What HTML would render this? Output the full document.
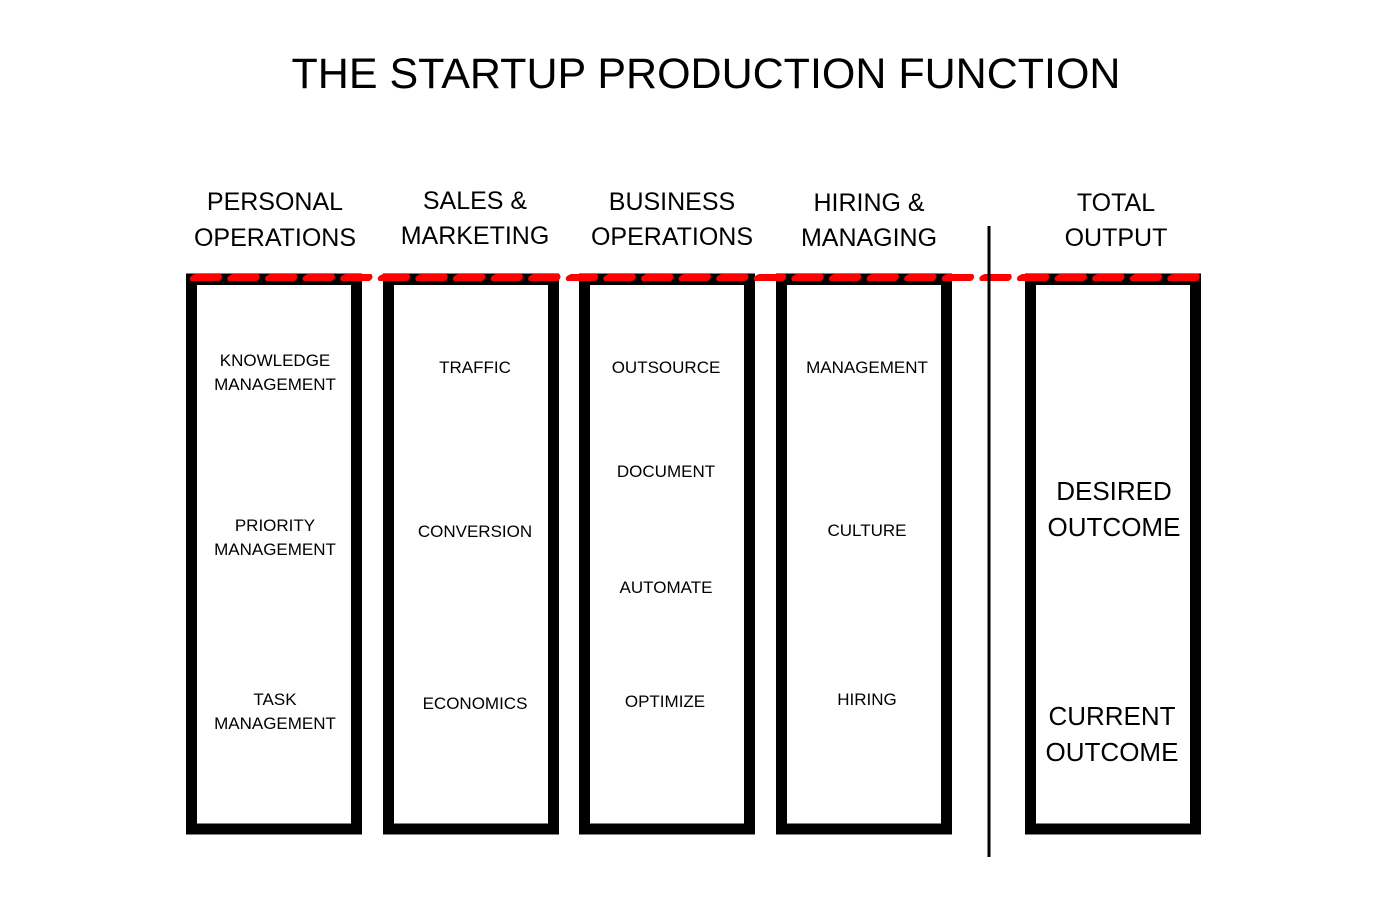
<!DOCTYPE html>
<html><head><meta charset="utf-8"><style>
html,body{margin:0;padding:0;background:#fff;}
svg{display:block;}
text{font-family:"Liberation Sans",sans-serif;fill:#000;text-anchor:middle;}
</style></head><body>
<svg width="1387" height="920" viewBox="0 0 1387 920">
<defs>
<pattern id="p" x="186" y="274" width="37.6" height="10" patternUnits="userSpaceOnUse">
<path d="M9 0 H35 Q38 4 33 7 H5 Q1 3 9 0Z" fill="#f00"/>
</pattern>
</defs>
<text x="706" y="88" font-size="43">THE STARTUP PRODUCTION FUNCTION</text>
<g font-size="25">
<text x="275" y="210">PERSONAL</text><text x="275" y="246">OPERATIONS</text>
<text x="475" y="209">SALES &amp;</text><text x="475" y="244">MARKETING</text>
<text x="672" y="210">BUSINESS</text><text x="672" y="245">OPERATIONS</text>
<text x="869" y="211">HIRING &amp;</text><text x="869" y="246">MANAGING</text>
<text x="1116" y="211">TOTAL</text><text x="1116" y="246">OUTPUT</text>
</g>
<g fill="none" stroke="#000" stroke-width="11">
<rect x="191.5" y="279" width="165" height="550"/>
<rect x="388.5" y="279" width="165" height="550"/>
<rect x="584.5" y="279" width="165" height="550"/>
<rect x="781.5" y="279" width="165" height="550"/>
<rect x="1030.5" y="279" width="165" height="550"/>
</g>
<g fill="#000">
<rect x="186" y="274" width="176" height="11"/>
<rect x="383" y="274" width="176" height="11"/>
<rect x="579" y="274" width="176" height="11"/>
<rect x="776" y="274" width="176" height="11"/>
<rect x="1025" y="274" width="176" height="11"/>
</g>
<rect x="186" y="274" width="1016" height="7" fill="url(#p)"/>
<rect x="987.5" y="226" width="3" height="631" fill="#000"/>
<g font-size="17">
<text x="275" y="366">KNOWLEDGE</text><text x="275" y="390">MANAGEMENT</text>
<text x="275" y="531">PRIORITY</text><text x="275" y="555">MANAGEMENT</text>
<text x="275" y="705">TASK</text><text x="275" y="729">MANAGEMENT</text>
<text x="475" y="373">TRAFFIC</text>
<text x="475" y="537">CONVERSION</text>
<text x="475" y="709">ECONOMICS</text>
<text x="666" y="373">OUTSOURCE</text>
<text x="666" y="477">DOCUMENT</text>
<text x="666" y="593">AUTOMATE</text>
<text x="665" y="707">OPTIMIZE</text>
<text x="867" y="373">MANAGEMENT</text>
<text x="867" y="536">CULTURE</text>
<text x="867" y="705">HIRING</text>
</g>
<g font-size="26">
<text x="1114" y="500">DESIRED</text><text x="1114" y="536">OUTCOME</text>
<text x="1112" y="725">CURRENT</text><text x="1112" y="761">OUTCOME</text>
</g>
</svg>
</body></html>
